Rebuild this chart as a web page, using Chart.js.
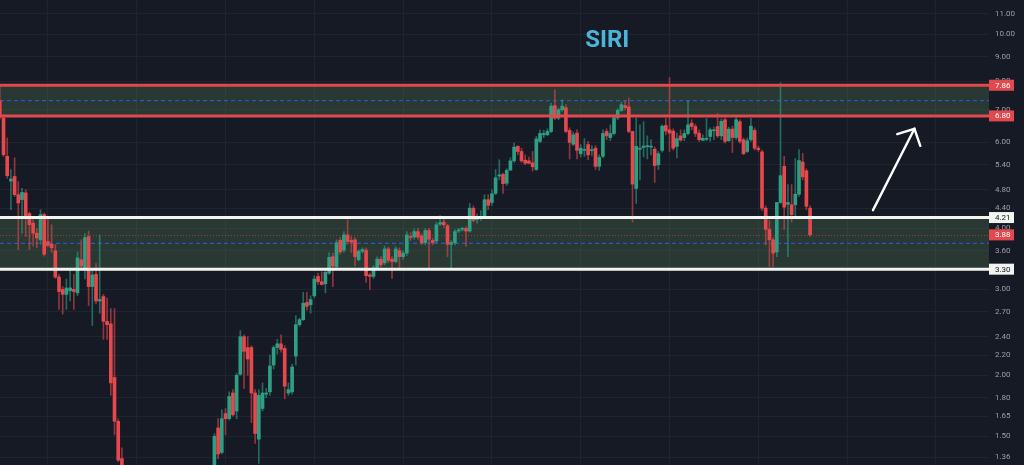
<!DOCTYPE html>
<html>
<head>
<meta charset="utf-8">
<script src="https://cdn.jsdelivr.net/npm/chart.js@4.4.1/dist/chart.umd.min.js"></script>
<style>
html,body{margin:0;padding:0;background:#161a25;overflow:hidden}
#c{display:block}
</style>
</head>
<body>
<canvas id="c" width="1024" height="465"></canvas>
<script>
// ---------- DATA ----------
const chartTitle = 'SIRI';
const N = null;
const open = [
7.30,6.73,5.62,5.00,5.11,4.69,4.58,4.73,4.29,4.10,
3.91,3.79,4.27,3.76,3.71,3.60,3.18,3.00,2.93,2.98,
3.00,2.95,3.45,3.32,3.85,3.04,3.22,2.84,2.90,2.58,
2.55,1.98,1.61,1.35,N,N,N,N,N,N,
N,N,N,N,N,N,N,N,N,N,
N,N,N,N,N,N,N,N,1.25,1.56,
1.39,1.67,1.63,1.84,1.69,2.01,2.40,2.28,2.28,1.84,
1.48,1.71,1.83,1.85,2.10,2.28,2.32,2.27,1.84,1.85,
2.19,2.54,2.60,2.82,2.79,2.91,3.19,3.11,3.08,3.24,
3.50,3.34,3.78,3.61,3.88,3.78,3.79,3.45,3.59,3.61,
3.21,3.19,3.32,3.46,3.40,3.63,3.46,3.42,3.60,3.50,
3.56,3.85,3.84,3.94,3.86,3.74,3.96,3.78,3.77,4.08,
4.12,4.05,3.71,3.74,3.95,3.98,4.00,3.95,4.40,4.17,
4.20,4.23,4.58,4.52,4.72,5.12,5.16,4.95,5.27,5.50,
5.89,5.75,5.52,5.50,5.45,5.28,6.03,6.22,6.22,6.32,
7.14,6.73,7.00,7.07,6.35,5.95,6.27,5.69,5.78,5.94,
5.77,5.84,5.36,5.62,6.32,6.14,6.26,6.74,6.98,7.14,
7.10,6.32,4.83,5.81,5.86,5.88,5.87,5.81,5.40,5.78,
6.50,6.37,6.33,5.89,6.19,6.14,6.26,6.57,6.47,6.27,
6.06,6.09,6.17,6.34,6.47,6.19,6.68,6.05,6.39,6.14,
6.62,6.08,5.75,6.08,6.35,5.84,5.74,4.40,3.98,3.79,
3.58,4.52,5.36,4.48,4.47,4.47,4.70,5.47,5.25,4.40];
const high = [
7.90,6.84,6.13,5.28,5.58,4.99,4.83,4.80,4.32,4.17,
4.00,4.37,4.30,4.24,4.07,3.71,3.22,3.04,3.15,3.30,
3.22,3.58,3.79,3.91,3.95,3.28,3.39,3.88,2.93,2.88,
2.74,2.74,1.63,1.42,N,N,N,N,N,N,
N,N,N,N,N,N,N,N,N,N,
N,N,N,N,N,N,N,N,1.52,1.63,
1.70,1.71,1.85,1.87,2.02,2.47,2.42,2.40,2.30,1.87,
1.87,1.93,1.88,2.20,2.30,2.37,2.42,2.30,1.93,2.11,
2.65,2.62,2.96,2.96,2.91,3.20,3.24,3.26,3.30,3.57,
3.56,3.79,3.83,3.94,4.17,3.85,3.83,3.62,3.65,3.65,
3.24,3.36,3.50,3.50,3.68,3.66,3.50,3.67,3.65,3.60,
3.94,3.92,3.99,4.00,3.90,4.00,4.00,3.82,4.12,4.25,
4.20,4.08,3.78,3.98,4.00,4.02,4.03,4.50,4.45,4.28,
4.35,4.69,4.69,4.80,5.28,5.53,5.19,5.30,5.58,5.98,
5.91,5.84,5.66,5.60,5.75,6.17,6.37,6.36,6.40,7.22,
7.69,7.06,7.34,7.17,6.43,6.30,6.37,5.94,6.11,6.03,
5.91,5.91,5.66,6.37,6.40,6.52,6.80,7.04,7.27,7.30,
7.40,6.33,6.73,6.52,6.62,6.19,6.08,5.87,5.75,6.52,
6.72,8.15,6.40,6.27,6.37,6.37,7.30,6.68,6.54,6.37,
6.22,6.72,6.43,6.45,6.88,6.71,6.74,6.45,6.48,6.78,
6.68,6.13,6.13,6.72,6.43,5.90,5.79,4.45,4.15,3.83,
4.52,7.95,5.62,4.92,4.92,5.56,5.80,5.70,5.30,4.45];
const low = [
6.70,5.62,5.07,4.37,4.65,3.62,3.91,3.85,3.62,3.68,
3.65,3.71,3.51,3.67,3.57,3.16,2.73,2.67,2.73,2.84,
2.73,2.91,3.30,3.15,2.78,2.53,2.80,2.68,2.37,2.37,
1.82,1.51,1.33,1.15,N,N,N,N,N,N,
N,N,N,N,N,N,N,N,N,N,
N,N,N,N,N,N,N,N,1.22,1.35,
1.38,1.51,1.62,1.65,1.63,2.00,1.88,2.00,1.60,1.45,
1.32,1.69,1.80,1.82,2.06,2.21,2.23,1.79,1.82,1.83,
2.10,2.52,2.59,2.72,2.68,2.88,3.07,3.06,2.95,3.22,
3.04,3.30,3.54,3.57,3.71,3.57,3.35,3.43,3.56,3.10,
3.00,3.16,3.30,3.34,3.37,3.40,3.16,3.40,3.30,3.45,
3.52,3.78,3.80,3.80,3.70,3.70,3.32,3.70,3.74,4.05,
4.02,3.50,3.32,3.70,3.92,3.95,3.68,3.93,4.12,4.10,
4.15,4.20,4.37,4.46,4.69,5.03,4.72,4.90,5.25,5.46,
5.66,5.46,5.40,5.42,5.24,5.26,6.00,6.14,6.20,6.28,
6.68,6.68,6.95,6.28,5.55,5.91,5.55,5.60,5.62,5.53,
5.64,5.28,5.26,5.58,6.08,6.05,6.22,6.68,6.95,7.00,
6.28,4.12,4.50,5.03,5.60,5.55,5.66,4.97,5.28,5.73,
6.22,5.75,5.79,5.58,6.03,6.05,6.22,6.37,6.17,6.03,
6.05,6.05,6.03,6.08,6.14,6.08,5.98,6.03,5.72,6.08,
5.98,5.66,5.72,6.03,5.79,5.75,4.35,3.70,3.34,3.34,
3.50,4.50,3.98,3.50,4.12,4.23,4.65,5.03,4.37,3.85];
const close = [
6.76,5.66,5.13,5.05,4.69,4.51,4.74,4.20,4.07,3.91,
3.82,4.27,3.54,3.69,3.65,3.18,2.97,2.93,3.02,3.02,
2.97,3.48,3.35,3.83,3.04,3.21,2.84,2.86,2.58,2.54,
1.93,1.61,1.34,1.20,N,N,N,N,N,N,
N,N,N,N,N,N,N,N,N,N,
N,N,N,N,N,N,N,N,1.50,1.38,
1.63,1.63,1.81,1.66,2.00,2.40,2.24,2.16,1.84,1.52,
1.82,1.84,1.84,2.09,2.28,2.32,2.26,1.90,1.87,2.08,
2.54,2.60,2.81,2.77,2.86,3.15,3.11,3.07,3.25,3.49,
3.35,3.74,3.58,3.88,3.76,3.75,3.50,3.59,3.62,3.20,
3.19,3.32,3.46,3.37,3.63,3.44,3.42,3.63,3.50,3.56,
3.88,3.83,3.94,3.84,3.74,3.96,3.80,3.74,4.07,4.11,
4.07,3.71,3.74,3.94,3.97,4.00,3.95,4.40,4.15,4.20,
4.23,4.58,4.46,4.71,5.08,5.15,4.94,5.26,5.50,5.87,
5.75,5.50,5.44,5.44,5.35,6.10,6.26,6.26,6.32,7.12,
6.73,7.00,7.12,6.32,6.00,6.22,5.78,5.84,5.80,5.66,
5.80,5.36,5.59,6.26,6.19,6.26,6.74,6.98,7.17,7.07,
6.32,4.93,5.89,5.84,5.90,5.91,5.89,5.38,5.69,6.48,
6.33,6.27,5.84,6.11,6.07,6.26,6.52,6.47,6.26,6.08,
6.12,6.12,6.37,6.37,6.19,6.63,6.03,6.39,6.14,6.68,
6.03,5.69,6.05,6.48,5.84,5.80,4.40,3.98,3.79,3.56,
4.52,5.13,4.42,4.52,4.27,4.70,5.51,5.10,4.44,3.88];

const yTickValues = [1.36,1.5,1.65,1.8,2,2.2,2.4,2.7,3,3.3,3.6,4,4.4,4.8,5.4,6,7,8,9,10,11];
const resistanceZone = [6.80, 7.86];
const supportZone = [3.30, 4.21];
const lastPrice = 3.88;
const arrowStart = [236, 4.36];
const arrowEnd = [247.2, 6.40];
const verticalGridBars = [13,37,61,85,109,133,157,181,205,229,253];

// ---------- STYLE ----------
const UP = '#2f9f84', DOWN = '#e5484d';
const UP_WICK = 'rgba(47,159,132,0.6)', DOWN_WICK = 'rgba(229,72,77,0.6)';
const GRID = '#20242f';
const ZONE_FILL = 'rgba(76,112,74,0.36)';

const idx = open.map((_, i) => i).filter(i => open[i] !== null);
const isUp = i => close[i] >= open[i];
const bodyData = idx.map(i => ({x: i, y: [open[i], close[i]]}));
const wickData = idx.map(i => ({x: i, y: [low[i], high[i]]}));

const overlay = {
  id: 'overlay',
  beforeDatasetsDraw(chart) {
    const {ctx, chartArea: a, scales: {y}} = chart;
    ctx.save();
    ctx.fillStyle = ZONE_FILL;
    for (const z of [resistanceZone, supportZone]) {
      const t = y.getPixelForValue(z[1]), b = y.getPixelForValue(z[0]);
      ctx.fillRect(a.left, t, a.right - a.left, b - t);
    }
    ctx.strokeStyle = 'rgba(41,98,255,0.75)';
    ctx.lineWidth = 1.2;
    ctx.setLineDash([4, 3]);
    for (const z of [resistanceZone, supportZone]) {
      const m = y.getPixelForValue(Math.sqrt(z[0] * z[1]));
      ctx.beginPath(); ctx.moveTo(a.left, m); ctx.lineTo(a.right, m); ctx.stroke();
    }
    ctx.strokeStyle = 'rgba(229,72,77,0.55)';
    ctx.lineWidth = 1;
    ctx.setLineDash([1, 2]);
    const lp = Math.round(y.getPixelForValue(lastPrice)) + 0.5;
    ctx.beginPath(); ctx.moveTo(a.left, lp); ctx.lineTo(a.right, lp); ctx.stroke();
    ctx.restore();
  },
  afterDatasetsDraw(chart) {
    const {ctx, chartArea: a, scales: {x, y}} = chart;
    ctx.save();
    ctx.lineWidth = 3;
    ctx.strokeStyle = '#e2494e';
    for (const v of resistanceZone) {
      const p = y.getPixelForValue(v);
      ctx.beginPath(); ctx.moveTo(a.left, p); ctx.lineTo(a.right, p); ctx.stroke();
    }
    ctx.strokeStyle = '#f2f4f0';
    for (const v of supportZone) {
      const p = y.getPixelForValue(v);
      ctx.beginPath(); ctx.moveTo(a.left, p); ctx.lineTo(a.right, p); ctx.stroke();
    }
    const x0 = x.getPixelForValue(arrowStart[0]), y0 = y.getPixelForValue(arrowStart[1]);
    const x1 = x.getPixelForValue(arrowEnd[0]), y1 = y.getPixelForValue(arrowEnd[1]);
    ctx.strokeStyle = '#ffffff';
    ctx.lineWidth = 2.4;
    ctx.lineCap = 'round';
    ctx.beginPath(); ctx.moveTo(x0, y0); ctx.lineTo(x1, y1); ctx.stroke();
    const ang = Math.atan2(y0 - y1, x0 - x1);
    const hl = 18, spread = 46 * Math.PI / 180;
    ctx.beginPath();
    ctx.moveTo(x1 + hl * Math.cos(ang + spread), y1 + hl * Math.sin(ang + spread));
    ctx.lineTo(x1, y1);
    ctx.lineTo(x1 + hl * Math.cos(ang - spread), y1 + hl * Math.sin(ang - spread));
    ctx.stroke();
    ctx.restore();
  },
  afterDraw(chart) {
    const {ctx, chartArea: a, scales: {y}} = chart;
    ctx.save();
    const badges = [
      [resistanceZone[1], '#e2494e', '#ffffff'],
      [resistanceZone[0], '#e2494e', '#ffffff'],
      [supportZone[1], '#f2f4f0', '#131722'],
      [lastPrice, '#e2494e', '#ffffff'],
      [supportZone[0], '#f2f4f0', '#131722']
    ];
    ctx.font = '8px Roboto';
    ctx.textBaseline = 'middle';
    ctx.textAlign = 'left';
    for (const [v, bg, fg] of badges) {
      const p = y.getPixelForValue(v);
      ctx.fillStyle = bg;
      ctx.fillRect(a.right, p - 5.5, 25, 11);
      ctx.fillStyle = fg;
      ctx.fillText(v.toFixed(2), a.right + 6, p + 0.5);
    }
    ctx.fillStyle = '#4db4d9';
    ctx.font = 'bold 24px Roboto';
    ctx.textAlign = 'center';
    ctx.textBaseline = 'alphabetic';
    ctx.fillText(chartTitle, a.left + (a.right - a.left) * 0.614, 47);
    ctx.restore();
  }
};

new Chart(document.getElementById('c'), {
  type: 'bar',
  data: {
    datasets: [
      {
        label: 'body',
        data: bodyData,
        grouped: false,
        barThickness: 3,
        minBarLength: 1,
        borderWidth: 0,
        backgroundColor: c => (c.raw && !isUp(c.raw.x)) ? DOWN : UP,
        order: 0
      },
      {
        label: 'wick',
        data: wickData,
        grouped: false,
        barThickness: 1,
        borderWidth: 0,
        backgroundColor: c => (c.raw && !isUp(c.raw.x)) ? DOWN_WICK : UP_WICK,
        order: 1
      }
    ]
  },
  options: {
    responsive: false,
    animation: false,
    layout: {padding: 0},
    plugins: {legend: {display: false}, tooltip: {enabled: false}, title: {display: false}},
    scales: {
      x: {
        type: 'linear',
        min: 0.05,
        max: 267.35,
        offset: false,
        grid: {color: GRID, drawTicks: false, offset: false},
        border: {display: false},
        ticks: {display: false},
        afterBuildTicks: s => { s.ticks = verticalGridBars.map(v => ({value: v})); },
        afterFit: s => { s.height = 0; s.paddingLeft = 0; s.paddingRight = 0; s.paddingTop = 0; s.paddingBottom = 0; }
      },
      y: {
        type: 'logarithmic',
        position: 'right',
        min: 1.31,
        max: 11.75,
        grid: {color: GRID, drawTicks: false},
        border: {display: false},
        ticks: {
          color: '#9a9ea8',
          font: {size: 8, family: 'Roboto'},
          padding: 6,
          autoSkip: false,
          callback: v => Number(v).toFixed(2)
        },
        afterBuildTicks: s => { s.ticks = yTickValues.map(v => ({value: v})); },
        afterFit: s => { s.width = 35; s.paddingTop = 0; s.paddingBottom = 0; s.paddingLeft = 0; s.paddingRight = 0; }
      }
    }
  },
  plugins: [overlay]
});
</script>
</body>
</html>
